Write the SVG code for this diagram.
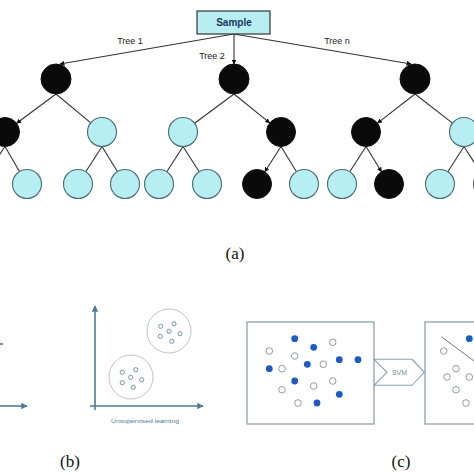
<svg xmlns="http://www.w3.org/2000/svg" width="474" height="474" viewBox="0 0 474 474">
<defs>
<style>
.edge{stroke:#333;stroke-width:1.1;fill:none}
.blk{fill:#0a0a0a;stroke:#111;stroke-width:1}
.cyn{fill:#b6eef1;stroke:#4a6b78;stroke-width:1.1}
.lbl{font-family:"Liberation Sans",Arial,sans-serif;font-size:9px;fill:#222}
.cap{font-family:"Liberation Serif","Times New Roman",serif;font-size:17px;fill:#111}
.axis{stroke:#4b7b98;stroke-width:1.6;fill:none}
.clu{fill:none;stroke:#b4bcc0;stroke-width:0.9}
.pt{fill:none;stroke:#6a8a9a;stroke-width:0.9}
.box{fill:#fff;stroke:#8fa0ad;stroke-width:1.3}
.bd{fill:#1d5bbf}
.hd{fill:#fff;stroke:#8a9098;stroke-width:0.9}
</style>
<marker id="ar" viewBox="0 0 10 10" refX="9" refY="5" markerWidth="4.5" markerHeight="4.5" orient="auto"><path d="M0,0 L10,5 L0,10 z" fill="#111"/></marker>
<marker id="ab" viewBox="0 0 10 10" refX="9" refY="5" markerWidth="4" markerHeight="4" orient="auto"><path d="M0,0 L10,5 L0,10 z" fill="#4b7b98"/></marker>
</defs>
<rect width="474" height="474" fill="#fff"/>

<g id="connectors">
<line class="edge" x1="234" y1="34" x2="60" y2="64" marker-end="url(#ar)"/>
<line class="edge" x1="234" y1="34" x2="234" y2="64" marker-end="url(#ar)"/>
<line class="edge" x1="234" y1="34" x2="411" y2="64" marker-end="url(#ar)"/>
<line class="edge" x1="56" y1="94" x2="16.6" y2="123.3" marker-end="url(#ar)"/>
<line class="edge" x1="56" y1="94" x2="90.8" y2="122.8"/>
<line class="edge" x1="234" y1="94" x2="194.6" y2="123.3"/>
<line class="edge" x1="234" y1="94" x2="269.7" y2="122.9" marker-end="url(#ar)"/>
<line class="edge" x1="415" y1="94" x2="377.5" y2="123.1" marker-end="url(#ar)"/>
<line class="edge" x1="415" y1="94" x2="452.5" y2="123.1"/>
<line class="edge" x1="5" y1="146.5" x2="-12" y2="171.8"/>
<line class="edge" x1="5" y1="146.5" x2="19.6" y2="171.8"/>
<line class="edge" x1="102" y1="146.5" x2="85.8" y2="171.8"/>
<line class="edge" x1="102" y1="146.5" x2="117.5" y2="171.8"/>
<line class="edge" x1="183" y1="146.5" x2="166.8" y2="171.8"/>
<line class="edge" x1="183" y1="146.5" x2="199.2" y2="171.8"/>
<line class="edge" x1="281" y1="146.5" x2="264.8" y2="171.8" marker-end="url(#ar)"/>
<line class="edge" x1="281" y1="146.5" x2="296.5" y2="171.8"/>
<line class="edge" x1="366" y1="146.5" x2="349.8" y2="171.8"/>
<line class="edge" x1="366" y1="146.5" x2="381.5" y2="171.8" marker-end="url(#ar)"/>
<line class="edge" x1="464" y1="146.5" x2="447.8" y2="171.8"/>
<line class="edge" x1="464" y1="146.5" x2="480.2" y2="171.8"/>
</g>

<g id="sample">
<rect x="197" y="11" width="73" height="23" fill="#b6eef1" stroke="#333" stroke-width="1.2"/>
<text x="234" y="25.5" text-anchor="middle" font-family="'Liberation Sans',Arial,sans-serif" font-size="10" font-weight="bold" fill="#1a3560">Sample</text>
</g>
<g id="edge-labels">
<text class="lbl" x="130" y="44" text-anchor="middle">Tree 1</text>
<text class="lbl" x="212" y="59" text-anchor="middle">Tree 2</text>
<text class="lbl" x="337" y="44" text-anchor="middle">Tree n</text>
</g>

<g id="level1">
<circle id="n1a" class="blk" cx="56" cy="79" r="15"/>
<circle id="n1b" class="blk" cx="234" cy="79" r="15"/>
<circle id="n1c" class="blk" cx="415" cy="79" r="15"/>
</g>
<g id="level2">
<circle id="n2a" class="blk" cx="5" cy="132" r="14.5"/>
<circle id="n2b" class="cyn" cx="102" cy="132" r="14.5"/>
<circle id="n2c" class="cyn" cx="183" cy="132" r="14.5"/>
<circle id="n2d" class="blk" cx="281" cy="132" r="14.5"/>
<circle id="n2e" class="blk" cx="366" cy="132" r="14.5"/>
<circle id="n2f" class="cyn" cx="464" cy="132" r="14.5"/>
</g>
<g id="level3">
<circle id="n3a" class="cyn" cx="27" cy="184" r="14.5"/>
<circle id="n3b" class="cyn" cx="78" cy="184" r="14.5"/>
<circle id="n3c" class="cyn" cx="125" cy="184" r="14.5"/>
<circle id="n3d" class="cyn" cx="159" cy="184" r="14.5"/>
<circle id="n3e" class="cyn" cx="207" cy="184" r="14.5"/>
<circle id="n3f" class="blk" cx="257" cy="184" r="14.5"/>
<circle id="n3g" class="cyn" cx="304" cy="184" r="14.5"/>
<circle id="n3h" class="cyn" cx="342" cy="184" r="14.5"/>
<circle id="n3i" class="blk" cx="389" cy="184" r="14.5"/>
<circle id="n3j" class="cyn" cx="440" cy="184" r="14.5"/>
<circle id="n3k" class="cyn" cx="488" cy="184" r="14.5"/>
</g>
<text class="cap" x="235" y="259" text-anchor="middle">(a)</text>

<g id="panel-b">
<line class="axis" x1="0" y1="344" x2="3" y2="344"/>
<line class="axis" x1="0" y1="406" x2="27" y2="406" marker-end="url(#ab)"/>
<line class="axis" x1="95" y1="410" x2="95" y2="306" marker-end="url(#ab)"/>
<line class="axis" x1="90" y1="406" x2="203" y2="406" marker-end="url(#ab)"/>
<circle class="clu" cx="169" cy="331" r="22"/>
<circle class="clu" cx="131" cy="377" r="22"/>
<circle class="pt" cx="160.7" cy="326.3" r="2.1"/>
<circle class="pt" cx="174" cy="323.7" r="2.1"/>
<circle class="pt" cx="169" cy="331.3" r="2.1"/>
<circle class="pt" cx="180" cy="333.7" r="2.1"/>
<circle class="pt" cx="160.3" cy="336.3" r="2.1"/>
<circle class="pt" cx="171.7" cy="341.3" r="2.1"/>
<circle class="pt" cx="122.3" cy="372.3" r="2.1"/>
<circle class="pt" cx="135.7" cy="369.7" r="2.1"/>
<circle class="pt" cx="130.7" cy="377.3" r="2.1"/>
<circle class="pt" cx="141.7" cy="379.7" r="2.1"/>
<circle class="pt" cx="122.3" cy="382.7" r="2.1"/>
<circle class="pt" cx="133.3" cy="387.3" r="2.1"/>
<text x="145" y="423" text-anchor="middle" font-family="'Liberation Sans',Arial,sans-serif" font-size="6.2" fill="#4b7b98" textLength="68" lengthAdjust="spacingAndGlyphs">Unsupervised learning</text>
</g>
<text class="cap" x="70" y="467" text-anchor="middle">(b)</text>

<g id="panel-c">
<rect class="box" x="247" y="322" width="127" height="102"/>
<rect class="box" x="425" y="322" width="60" height="102"/>
<path d="M374,359.3 L412,359.3 L424.3,372.3 L412,385.3 L374,385.3 L387,372.3 Z" fill="#fff" stroke="#8fa0ad" stroke-width="1.1"/>
<text x="399.5" y="374.5" text-anchor="middle" font-family="'Liberation Sans',Arial,sans-serif" font-size="7" fill="#7a8a98">SVM</text>
<circle class="bd" cx="294.7" cy="338.7" r="3.4"/>
<circle class="bd" cx="313.7" cy="347.3" r="3.4"/>
<circle class="bd" cx="307.3" cy="364.3" r="3.4"/>
<circle class="bd" cx="339.3" cy="359.7" r="3.4"/>
<circle class="bd" cx="358" cy="359.7" r="3.4"/>
<circle class="bd" cx="269.3" cy="368.7" r="3.4"/>
<circle class="bd" cx="294.7" cy="381" r="3.4"/>
<circle class="bd" cx="339.3" cy="394.3" r="3.4"/>
<circle class="bd" cx="317" cy="403" r="3.4"/>
<circle class="hd" cx="269.3" cy="351" r="3.3"/>
<circle class="hd" cx="294.7" cy="356" r="3.3"/>
<circle class="hd" cx="332.7" cy="342.3" r="3.3"/>
<circle class="hd" cx="323.3" cy="364.3" r="3.3"/>
<circle class="hd" cx="282" cy="368.7" r="3.3"/>
<circle class="hd" cx="282" cy="389.7" r="3.3"/>
<circle class="hd" cx="313.7" cy="386" r="3.3"/>
<circle class="hd" cx="332.7" cy="381" r="3.3"/>
<circle class="hd" cx="298" cy="403" r="3.3"/>
<line x1="441.3" y1="336.7" x2="474" y2="361" stroke="#667" stroke-width="0.9"/>
<circle class="bd" cx="469.3" cy="338.7" r="3.4"/>
<circle class="hd" cx="443.7" cy="351" r="3.3"/>
<circle class="hd" cx="456" cy="368.7" r="3.3"/>
<circle class="hd" cx="447" cy="377" r="3.3"/>
<circle class="hd" cx="469.3" cy="377" r="3.3"/>
<circle class="hd" cx="456" cy="389.7" r="3.3"/>
<circle class="hd" cx="466" cy="403" r="3.3"/>
</g>
<text class="cap" x="401" y="467" text-anchor="middle">(c)</text>
</svg>
